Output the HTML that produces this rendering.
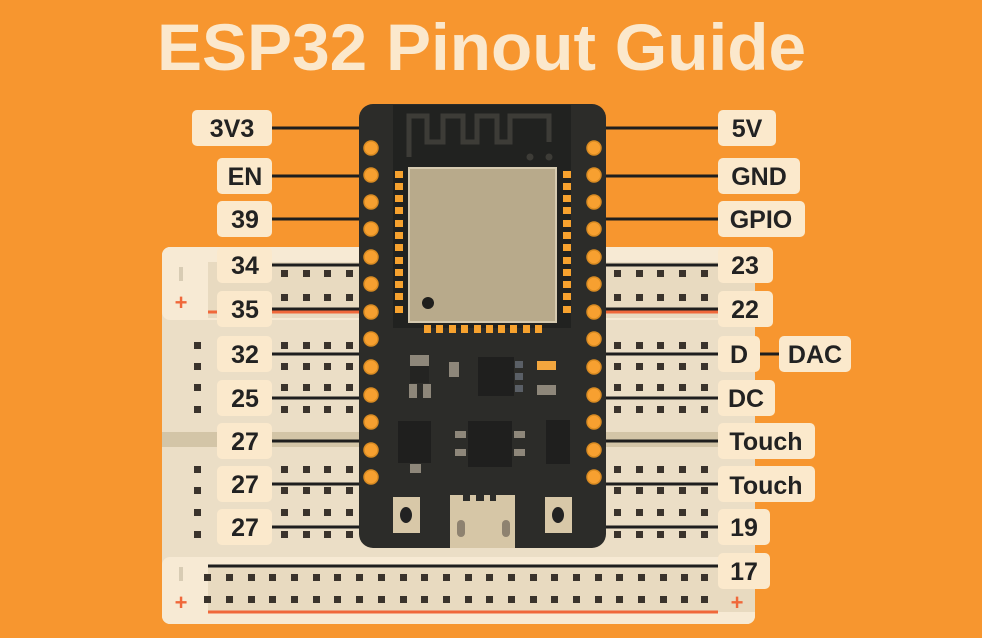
<!DOCTYPE html>
<html><head><meta charset="utf-8"><style>
html,body{margin:0;padding:0;background:#f7962f;}
svg{display:block}
text{font-family:"Liberation Sans",sans-serif;font-weight:bold}
</style></head><body>
<svg width="982" height="638" viewBox="0 0 982 638" xmlns="http://www.w3.org/2000/svg">
<rect width="982" height="638" fill="#f7962f"/>
<text x="157" y="70" font-size="66" fill="#fbe8cc" textLength="649" lengthAdjust="spacingAndGlyphs">ESP32 Pinout Guide</text>

<!-- breadboard -->
<rect x="162" y="247" width="593" height="377" rx="8" fill="#ebdec6"/>
<rect x="162" y="247" width="593" height="73" rx="8" fill="#f7ead4"/>
<rect x="208" y="262" width="547" height="56" fill="#e8dac0"/>
<rect x="162" y="432" width="593" height="15" fill="#d3c5a7"/>
<rect x="162" y="557" width="593" height="67" rx="8" fill="#f7ead4"/>
<rect x="208" y="565" width="547" height="47" fill="#e8dac0"/>
<line x1="208" y1="312" x2="718" y2="312" stroke="#f0683a" stroke-width="3"/>
<line x1="208" y1="612" x2="718" y2="612" stroke="#f0683a" stroke-width="3"/>
<line x1="208" y1="566" x2="718" y2="566" stroke="#1e1e1e" stroke-width="3"/>
<text x="181" y="310" font-size="22" fill="#f0683a" text-anchor="middle">+</text>
<text x="181" y="610" font-size="22" fill="#f0683a" text-anchor="middle">+</text>
<text x="737" y="610" font-size="22" fill="#f0683a" text-anchor="middle">+</text>
<rect x="179" y="267" width="4" height="14" fill="#d8ccb4"/>
<rect x="179" y="567" width="4" height="14" fill="#d8ccb4"/>
<g fill="#3a332c" id="holes">
<!-- generated below -->
</g>
<g fill="#3a332c">
<!-- top rail -->
<rect x="281" y="270" width="7" height="7"/><rect x="303" y="270" width="7" height="7"/><rect x="324" y="270" width="7" height="7"/><rect x="346" y="270" width="7" height="7"/>
<rect x="281" y="294" width="7" height="7"/><rect x="303" y="294" width="7" height="7"/><rect x="324" y="294" width="7" height="7"/><rect x="346" y="294" width="7" height="7"/>
<rect x="614" y="270" width="7" height="7"/><rect x="636" y="270" width="7" height="7"/><rect x="657" y="270" width="7" height="7"/><rect x="679" y="270" width="7" height="7"/><rect x="701" y="270" width="7" height="7"/>
<rect x="614" y="294" width="7" height="7"/><rect x="636" y="294" width="7" height="7"/><rect x="657" y="294" width="7" height="7"/><rect x="679" y="294" width="7" height="7"/><rect x="701" y="294" width="7" height="7"/>
</g>
<g fill="#3a332c">
<!-- main area rows -->
<g id="r1">
<rect x="194" y="342" width="7" height="7"/><rect x="281" y="342" width="7" height="7"/><rect x="303" y="342" width="7" height="7"/><rect x="324" y="342" width="7" height="7"/><rect x="346" y="342" width="7" height="7"/>
<rect x="614" y="342" width="7" height="7"/><rect x="636" y="342" width="7" height="7"/><rect x="657" y="342" width="7" height="7"/><rect x="679" y="342" width="7" height="7"/><rect x="701" y="342" width="7" height="7"/>
</g>
<use href="#r1" y="21"/><use href="#r1" y="42"/><use href="#r1" y="64"/>
<use href="#r1" y="124"/><use href="#r1" y="145"/><use href="#r1" y="167"/><use href="#r1" y="189"/>
</g>
<g fill="#3a332c">
<g id="b1">
<rect x="204" y="574" width="7" height="7"/><rect x="226" y="574" width="7" height="7"/><rect x="248" y="574" width="7" height="7"/><rect x="269" y="574" width="7" height="7"/><rect x="291" y="574" width="7" height="7"/><rect x="313" y="574" width="7" height="7"/><rect x="334" y="574" width="7" height="7"/><rect x="356" y="574" width="7" height="7"/><rect x="378" y="574" width="7" height="7"/><rect x="400" y="574" width="7" height="7"/><rect x="421" y="574" width="7" height="7"/><rect x="443" y="574" width="7" height="7"/><rect x="465" y="574" width="7" height="7"/><rect x="486" y="574" width="7" height="7"/><rect x="508" y="574" width="7" height="7"/><rect x="530" y="574" width="7" height="7"/><rect x="551" y="574" width="7" height="7"/><rect x="573" y="574" width="7" height="7"/><rect x="595" y="574" width="7" height="7"/><rect x="616" y="574" width="7" height="7"/><rect x="638" y="574" width="7" height="7"/><rect x="660" y="574" width="7" height="7"/><rect x="681" y="574" width="7" height="7"/><rect x="701" y="574" width="7" height="7"/>
</g>
<use href="#b1" y="22"/>
</g>

<!-- connector lines -->
<g stroke="#1e1e1e" stroke-width="3">
<line x1="272" y1="128" x2="360" y2="128"/><line x1="272" y1="176" x2="360" y2="176"/><line x1="272" y1="219" x2="360" y2="219"/>
<line x1="272" y1="265" x2="360" y2="265"/><line x1="272" y1="309" x2="360" y2="309"/><line x1="272" y1="354" x2="360" y2="354"/>
<line x1="272" y1="398" x2="360" y2="398"/><line x1="272" y1="441" x2="360" y2="441"/><line x1="272" y1="484" x2="360" y2="484"/><line x1="272" y1="527" x2="360" y2="527"/>
<line x1="605" y1="128" x2="718" y2="128"/><line x1="605" y1="176" x2="718" y2="176"/><line x1="605" y1="219" x2="718" y2="219"/>
<line x1="605" y1="265" x2="718" y2="265"/><line x1="605" y1="309" x2="718" y2="309"/><line x1="605" y1="354" x2="718" y2="354"/>
<line x1="605" y1="398" x2="718" y2="398"/><line x1="605" y1="441" x2="718" y2="441"/><line x1="605" y1="484" x2="718" y2="484"/><line x1="605" y1="527" x2="718" y2="527"/>
<line x1="758" y1="354" x2="780" y2="354"/>
</g>

<!-- board -->
<rect x="359" y="104" width="247" height="444" rx="14" fill="#2c2c29"/>
<rect x="393" y="105" width="178" height="223" fill="#212220"/>
<path d="M409 157 V116 H427 V142 H443 V116 H463 V142 H477 V116 H497 V142 H510 V116 H549 V142" fill="none" stroke="#3d3c37" stroke-width="5"/>
<circle cx="530" cy="157" r="3.5" fill="#3d3c37"/><circle cx="549" cy="157" r="3.5" fill="#3d3c37"/>
<rect x="408" y="167" width="149" height="156" fill="#d6cab0"/>
<rect x="410" y="169" width="145" height="152" fill="#b8aa8b"/>
<circle cx="428" cy="303" r="6" fill="#1f1f1d"/>
<g fill="#f7a22e">
<g id="pl"><rect x="395" y="171" width="8" height="7"/><rect x="395" y="183" width="8" height="7"/><rect x="395" y="195" width="8" height="7"/><rect x="395" y="207" width="8" height="7"/><rect x="395" y="220" width="8" height="7"/><rect x="395" y="232" width="8" height="7"/><rect x="395" y="244" width="8" height="7"/><rect x="395" y="257" width="8" height="7"/><rect x="395" y="269" width="8" height="7"/><rect x="395" y="281" width="8" height="7"/><rect x="395" y="293" width="8" height="7"/><rect x="395" y="306" width="8" height="7"/></g>
<use href="#pl" x="168"/>
<rect x="424" y="325" width="7" height="8"/><rect x="436" y="325" width="7" height="8"/><rect x="449" y="325" width="7" height="8"/><rect x="461" y="325" width="7" height="8"/><rect x="474" y="325" width="7" height="8"/><rect x="486" y="325" width="7" height="8"/><rect x="498" y="325" width="7" height="8"/><rect x="510" y="325" width="7" height="8"/><rect x="523" y="325" width="7" height="8"/><rect x="535" y="325" width="7" height="8"/>
</g>
<!-- pins -->
<g fill="#f7a030" stroke="#d98b22" stroke-width="1.5">
<g id="pins"><circle cx="371" cy="148" r="7"/><circle cx="371" cy="175" r="7"/><circle cx="371" cy="202" r="7"/><circle cx="371" cy="229" r="7"/><circle cx="371" cy="257" r="7"/><circle cx="371" cy="284" r="7"/><circle cx="371" cy="312" r="7"/><circle cx="371" cy="339" r="7"/><circle cx="371" cy="367" r="7"/><circle cx="371" cy="395" r="7"/><circle cx="371" cy="422" r="7"/><circle cx="371" cy="450" r="7"/><circle cx="371" cy="477" r="7"/></g>
<use href="#pins" x="223"/>
</g>
<!-- components -->
<rect x="410" y="356" width="19" height="27" fill="#242422"/>
<rect x="410" y="355" width="19" height="11" fill="#8e877a"/>
<rect x="409" y="384" width="8" height="14" fill="#8e877a"/><rect x="423" y="384" width="8" height="14" fill="#8e877a"/>
<rect x="449" y="362" width="10" height="15" fill="#8e877a"/>
<rect x="478" y="357" width="36" height="39" fill="#1f1f1e"/>
<rect x="515" y="361" width="8" height="7" fill="#5a5f66"/><rect x="515" y="373" width="8" height="7" fill="#5a5f66"/><rect x="515" y="385" width="8" height="7" fill="#5a5f66"/>
<rect x="537" y="361" width="19" height="9" fill="#f3a63e"/>
<rect x="537" y="385" width="19" height="10" fill="#8e877a"/>
<rect x="398" y="421" width="33" height="42" fill="#1f1f1e"/>
<rect x="410" y="464" width="11" height="9" fill="#8e877a"/>
<rect x="468" y="421" width="44" height="46" fill="#1f1f1e"/>
<rect x="455" y="431" width="11" height="7" fill="#8e877a"/><rect x="455" y="449" width="11" height="7" fill="#8e877a"/>
<rect x="514" y="431" width="11" height="7" fill="#8e877a"/><rect x="514" y="449" width="11" height="7" fill="#8e877a"/>
<rect x="546" y="420" width="24" height="44" fill="#1f1f1e"/>
<!-- buttons -->
<rect x="393" y="497" width="27" height="36" fill="#d8c8a8"/><ellipse cx="406" cy="515" rx="6" ry="8" fill="#222"/>
<rect x="545" y="497" width="27" height="36" fill="#d8c8a8"/><ellipse cx="558" cy="515" rx="6" ry="8" fill="#222"/>
<!-- usb -->
<path d="M450 495 H463 V501 H470 V495 H476 V501 H484 V495 H490 V501 H496 V495 H515 V548 H450 Z" fill="#d6c6a6"/>
<rect x="457" y="520" width="8" height="17" rx="4" fill="#8e8270"/><rect x="502" y="520" width="8" height="17" rx="4" fill="#8e8270"/>

<!-- labels -->
<g fill="#fbe9cc">
<rect x="192" y="110" width="80" height="36" rx="5"/>
<rect x="217" y="158" width="55" height="36" rx="5"/>
<rect x="217" y="201" width="55" height="36" rx="5"/>
<rect x="217" y="247" width="55" height="36" rx="5"/>
<rect x="217" y="291" width="55" height="36" rx="5"/>
<rect x="217" y="336" width="55" height="36" rx="5"/>
<rect x="217" y="380" width="55" height="36" rx="5"/>
<rect x="217" y="423" width="55" height="36" rx="5"/>
<rect x="217" y="466" width="55" height="36" rx="5"/>
<rect x="217" y="509" width="55" height="36" rx="5"/>
<rect x="718" y="110" width="58" height="36" rx="5"/>
<rect x="718" y="158" width="82" height="36" rx="5"/>
<rect x="718" y="201" width="87" height="36" rx="5"/>
<rect x="718" y="247" width="55" height="36" rx="5"/>
<rect x="718" y="291" width="55" height="36" rx="5"/>
<rect x="718" y="336" width="42" height="36" rx="5"/>
<rect x="779" y="336" width="72" height="36" rx="5"/>
<rect x="718" y="380" width="57" height="36" rx="5"/>
<rect x="718" y="423" width="97" height="36" rx="5"/>
<rect x="718" y="466" width="97" height="36" rx="5"/>
<rect x="718" y="509" width="52" height="36" rx="5"/>
<rect x="718" y="553" width="52" height="36" rx="5"/>
</g>
<g font-size="25" fill="#222">
<text x="232" y="137" text-anchor="middle">3V3</text>
<text x="245" y="185" text-anchor="middle">EN</text>
<text x="245" y="228" text-anchor="middle">39</text>
<text x="245" y="274" text-anchor="middle">34</text>
<text x="245" y="318" text-anchor="middle">35</text>
<text x="245" y="363" text-anchor="middle">32</text>
<text x="245" y="407" text-anchor="middle">25</text>
<text x="245" y="450" text-anchor="middle">27</text>
<text x="245" y="493" text-anchor="middle">27</text>
<text x="245" y="536" text-anchor="middle">27</text>
<text x="747" y="137" text-anchor="middle">5V</text>
<text x="759" y="185" text-anchor="middle">GND</text>
<text x="761" y="228" text-anchor="middle">GPIO</text>
<text x="745" y="274" text-anchor="middle">23</text>
<text x="745" y="318" text-anchor="middle">22</text>
<text x="739" y="363" text-anchor="middle">D</text>
<text x="815" y="363" text-anchor="middle">DAC</text>
<text x="746" y="407" text-anchor="middle">DC</text>
<text x="766" y="450" text-anchor="middle">Touch</text>
<text x="766" y="494" text-anchor="middle">Touch</text>
<text x="744" y="536" text-anchor="middle">19</text>
<text x="744" y="580" text-anchor="middle">17</text>
</g>
</svg>
</body></html>
